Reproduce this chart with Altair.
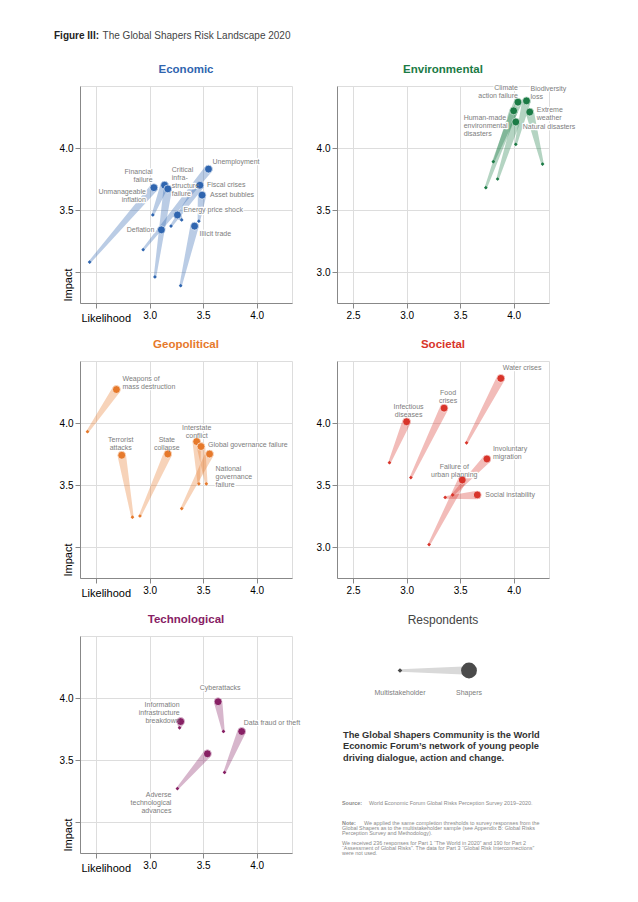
import altair as alt
import pandas as pd

FONT = "Liberation Sans"

# ---------------- data ----------------
eco_risks = ["Unmanageable inflation", "Financial failure", "Critical infrastructure failure",
             "Unemployment", "Fiscal crises", "Asset bubbles", "Energy price shock",
             "Deflation", "Illicit trade"]
eco_labels = ["Unmanageable\ninflation", "Financial\nfailure", "Critical\ninfra-\nstructure\nfailure",
              "Unemployment", "Fiscal crises", "Asset bubbles", "Energy price shock",
              "Deflation", "Illicit trade"]
eco_shapers_likelihood = [3.04, 3.14, 3.17, 3.55, 3.47, 3.49, 3.26, 3.11, 3.42]
eco_shapers_impact = [3.68, 3.70, 3.67, 3.83, 3.70, 3.62, 3.46, 3.34, 3.37]
eco_multi_likelihood = [2.44, 3.03, 3.05, 2.94, 3.20, 3.46, 3.30, 3.13, 3.29]
eco_multi_impact = [3.08, 3.46, 2.96, 3.18, 3.37, 3.41, 3.42, 3.35, 2.89]

env_risks = ["Climate action failure", "Biodiversity loss", "Human-made environmental disasters",
             "Extreme weather", "Natural disasters"]
env_labels = ["Climate\naction failure", "Biodiversity\nloss", "Human-made\nenvironmental\ndisasters",
              "Extreme\nweather", "Natural disasters"]
env_shapers_likelihood = [4.04, 4.12, 4.00, 4.15, 4.02]
env_shapers_impact = [4.37, 4.38, 4.30, 4.29, 4.21]
env_multi_likelihood = [3.81, 4.02, 3.74, 4.27, 3.85]
env_multi_impact = [3.89, 4.03, 3.68, 3.87, 3.75]

geo_risks = ["Weapons of mass destruction", "Terrorist attacks", "State collapse",
             "Interstate conflict", "Global governance failure", "National governance failure"]
geo_labels = ["Weapons of\nmass destruction", "Terrorist\nattacks", "State\ncollapse",
              "Interstate\nconflict", "Global governance failure", "National\ngovernance\nfailure"]
geo_shapers_likelihood = [2.69, 2.74, 3.17, 3.44, 3.48, 3.56]
geo_shapers_impact = [4.27, 3.74, 3.75, 3.85, 3.81, 3.75]
geo_multi_likelihood = [2.42, 2.84, 2.91, 3.46, 3.53, 3.30]
geo_multi_impact = [3.93, 3.24, 3.25, 3.51, 3.51, 3.31]

soc_risks = ["Water crises", "Food crises", "Infectious diseases", "Involuntary migration",
             "Failure of urban planning", "Social instability"]
soc_labels = ["Water crises", "Food\ncrises", "Infectious\ndiseases", "Involuntary\nmigration",
              "Failure of\nurban planning", "Social instability"]
soc_shapers_likelihood = [3.88, 3.35, 3.00, 3.75, 3.52, 3.66]
soc_shapers_impact = [4.36, 4.12, 4.01, 3.71, 3.54, 3.42]
soc_multi_likelihood = [3.56, 3.04, 2.84, 3.43, 3.21, 3.36]
soc_multi_impact = [3.84, 3.56, 3.68, 3.42, 3.02, 3.40]

tech_risks = ["Cyberattacks", "Information infrastructure breakdown", "Data fraud or theft",
              "Adverse technological advances"]
tech_labels = ["Cyberattacks", "Information\ninfrastructure\nbreakdown", "Data fraud or theft",
               "Adverse\ntechnological\nadvances"]
tech_shapers_likelihood = [3.64, 3.29, 3.86, 3.54]
tech_shapers_impact = [3.97, 3.81, 3.73, 3.55]
tech_multi_likelihood = [3.69, 3.28, 3.70, 3.26]
tech_multi_impact = [3.73, 3.76, 3.40, 3.27]

respondent_groups = ["Multistakeholder", "Shapers"]

fig_title_bold = "Figure III:"
fig_title_rest = "The Global Shapers Risk Landscape 2020"
description = ("The Global Shapers Community is the World\n"
               "Economic Forum\u2019s network of young people\n"
               "driving dialogue, action and change.")
source_bold = "Source:"
source_text = "World Economic Forum Global Risks Perception Survey 2019\u20132020."
note_bold = "Note:"
note_first = "We applied the same completion thresholds to survey responses from the"
note_rest = ("Global Shapers as to the multistakeholder sample (see Appendix B: Global Risks\n"
             "Perception Survey and Methodology).")
note2 = ("We received 236 responses for Part 1 \u201cThe World in 2020\u201d and 190 for Part 2\n"
         "\u201cAssessment of Global Risks\u201d. The data for Part 3 \u201cGlobal Risk Interconnections\u201d\n"
         "were not used.")

# ---------------- label placement (align, dx, dy) ----------------
placement = {
    "Unmanageable inflation": ("right", -8, 4),
    "Financial failure": ("right", -12, -13),
    "Critical infrastructure failure": ("left", 4, -19),
    "Unemployment": ("left", 4, -7),
    "Fiscal crises": ("left", 7, 0),
    "Asset bubbles": ("left", 8, 0),
    "Energy price shock": ("left", 6, -5),
    "Deflation": ("right", -7, 0),
    "Illicit trade": ("left", 5, 8),
    "Climate action failure": ("right", 0, -14),
    "Biodiversity loss": ("left", 4, -12),
    "Human-made environmental disasters": ("left", -50, 7),
    "Extreme weather": ("left", 7, -2),
    "Natural disasters": ("left", 7, 5),
    "Weapons of mass destruction": ("left", 6, -11),
    "Terrorist attacks": ("center", -1, -15),
    "State collapse": ("center", -1, -14),
    "Interstate conflict": ("center", 0, -14),
    "Global governance failure": ("left", 7, -2),
    "National governance failure": ("left", 6, 15),
    "Water crises": ("left", 2, -10),
    "Food crises": ("center", 4, -15),
    "Infectious diseases": ("center", 2, -15),
    "Involuntary migration": ("left", 6, -10),
    "Failure of urban planning": ("center", -8, -13),
    "Social instability": ("left", 8, 0),
    "Cyberattacks": ("center", 2, -14),
    "Information infrastructure breakdown": ("right", -1, -17),
    "Data fraud or theft": ("left", 2, -8),
    "Adverse technological advances": ("right", -36, 41),
}

X_DOMAIN = [2.35, 4.33]
Y_DOMAIN = [2.75, 4.5]
W, H = 212, 217
LABEL_COLOR = "#7d7d7d"
NOTE_COLOR = "#8a8a8a"


def make_df(risks, labels, s_l, s_i, m_l, m_i):
    rows = []
    for r, lab, a, b, c, d in zip(risks, labels, s_l, s_i, m_l, m_i):
        rows.append(dict(risk=r, label=lab, group="Multistakeholder", stage=0, likelihood=c, impact=d))
        rows.append(dict(risk=r, label=lab, group="Shapers", stage=1, likelihood=a, impact=b))
    return pd.DataFrame(rows)


def text_mark(txt, x, y, size, color, weight="normal", line_height=None, align="left",
              baseline="alphabetic"):
    kw = {}
    if line_height:
        kw["lineHeight"] = line_height
    return alt.Chart(pd.DataFrame({"t": [txt]})).mark_text(
        align=align, baseline=baseline, fontSize=size, fontWeight=weight, color=color,
        font=FONT, lineBreak="\n", **kw).encode(x=alt.value(x), y=alt.value(y), text="t:N")


def panel_title(name, color, weight="bold", size=11.5):
    return text_mark(name, W / 2, -16, size, color, weight, align="center", baseline="middle")


def panel(name, color, df, left, extra=None):
    if left:
        xaxis = alt.Axis(values=[2.5, 3.0, 3.5, 4.0], format=".1f",
                         labelExpr="datum.value == 2.5 ? '' : datum.label",
                         title="Likelihood", titleAnchor="start", titleAlign="left",
                         titleBaseline="alphabetic", titleX=1, titleY=18,
                         titleFontWeight="normal")
        yaxis = alt.Axis(values=[3.0, 3.5, 4.0], format=".1f",
                         labelExpr="datum.value == 3 ? '' : datum.label",
                         title="Impact", titleAngle=270, titleAlign="left",
                         titleBaseline="alphabetic", titleX=-9, titleY=215,
                         titleFontWeight="normal")
    else:
        xaxis = alt.Axis(values=[2.5, 3.0, 3.5, 4.0], format=".1f", title="")
        yaxis = alt.Axis(values=[3.0, 3.5, 4.0], format=".1f", title="")
    x = alt.X("likelihood:Q", scale=alt.Scale(domain=X_DOMAIN, nice=False, zero=False), axis=xaxis)
    y = alt.Y("impact:Q", scale=alt.Scale(domain=Y_DOMAIN, nice=False, zero=False), axis=yaxis)
    base = alt.Chart(df)
    trail = base.mark_trail(color=color, opacity=0.33).encode(
        x=x, y=y, detail="risk:N", order="stage:Q",
        size=alt.Size("stage:Q", scale=alt.Scale(domain=[0, 1], range=[2.5, 8.5]), legend=None))
    diamonds = base.transform_filter(alt.datum.group == "Multistakeholder").mark_point(
        shape="diamond", filled=True, size=14, color=color, opacity=1).encode(x=x, y=y)
    layers = [trail, diamonds]
    halos, texts = [], []
    for r in df["risk"].unique():
        align, dx, dy = placement[r]
        sel = base.transform_filter((alt.datum.group == "Shapers") & (alt.datum.risk == r))
        common = dict(align=align, baseline="middle", dx=dx, dy=dy, lineBreak="\n", lineHeight=8,
                      fontSize=7, font=FONT)
        halos.append(sel.mark_text(color="white", stroke="white", strokeWidth=2.4,
                                   strokeJoin="round", **common).encode(x=x, y=y, text="label:N"))
        texts.append(sel.mark_text(color=LABEL_COLOR, **common).encode(x=x, y=y, text="label:N"))
    circles = base.transform_filter(alt.datum.group == "Shapers").mark_circle(
        size=62, color=color, opacity=1, stroke="white", strokeWidth=0.6).encode(x=x, y=y)
    layers += halos + [circles] + texts
    layers.append(panel_title(name, color))
    if extra:
        layers.extend(extra)
    return alt.layer(*layers).properties(width=W, height=H)


fig_title = [
    text_mark(fig_title_bold, -26, -47, 10, "#222222", "bold"),
    text_mark(fig_title_rest, 22.6, -47, 10, "#444444"),
]

p_eco = panel("Economic", "#2F65AF",
              make_df(eco_risks, eco_labels, eco_shapers_likelihood, eco_shapers_impact,
                      eco_multi_likelihood, eco_multi_impact), True, fig_title)
p_env = panel("Environmental", "#1B7B45",
              make_df(env_risks, env_labels, env_shapers_likelihood, env_shapers_impact,
                      env_multi_likelihood, env_multi_impact), False)
p_geo = panel("Geopolitical", "#E6792B",
              make_df(geo_risks, geo_labels, geo_shapers_likelihood, geo_shapers_impact,
                      geo_multi_likelihood, geo_multi_impact), True)
p_soc = panel("Societal", "#D8342A",
              make_df(soc_risks, soc_labels, soc_shapers_likelihood, soc_shapers_impact,
                      soc_multi_likelihood, soc_multi_impact), False)
p_tech = panel("Technological", "#872064",
               make_df(tech_risks, tech_labels, tech_shapers_likelihood, tech_shapers_impact,
                       tech_multi_likelihood, tech_multi_impact), True)

# ---------------- respondents key + notes ----------------
leg_df = pd.DataFrame({"group": respondent_groups, "stage": [0, 1]})
lx = alt.X("stage:Q", scale=alt.Scale(domain=[0, 1], range=[63, 132]), axis=None)
leg_base = alt.Chart(leg_df)
leg_trail = leg_base.mark_trail(color="#d9d9d9").encode(
    x=lx, y=alt.value(34.5), order="stage:Q",
    size=alt.Size("stage:Q", scale=alt.Scale(domain=[0, 1], range=[3, 16]), legend=None))
leg_diamond = leg_base.transform_filter(alt.datum.stage == 0).mark_point(
    shape="diamond", filled=True, size=22, color="#4a4a4a", opacity=1).encode(x=lx, y=alt.value(34.5))
leg_circle = leg_base.transform_filter(alt.datum.stage == 1).mark_circle(
    size=250, color="#4a4a4a", opacity=1).encode(x=lx, y=alt.value(34.5))
leg_text = leg_base.mark_text(fontSize=7, color=LABEL_COLOR, font=FONT, baseline="middle").encode(
    x=lx, y=alt.value(57.3), text="group:N")

NS = 5.4
notes_layers = [
    leg_trail, leg_diamond, leg_circle, leg_text,
    panel_title("Respondents", "#444444", "normal", 12),
    text_mark(description, 6, 101.7, 9.3, "#333333", "bold", 11.7),
    text_mark(source_bold, 5, 169.3, NS, NOTE_COLOR, "bold"),
    text_mark(source_text, 32, 169.3, NS, NOTE_COLOR),
    text_mark(note_bold, 5, 188.6, NS, NOTE_COLOR, "bold"),
    text_mark(note_first, 27, 188.6, NS, NOTE_COLOR),
    text_mark(note_rest, 5, 194, NS, NOTE_COLOR, "normal", 5.3),
    text_mark(note2, 5, 208.6, NS, NOTE_COLOR, "normal", 5.3),
]
p_resp = alt.layer(*notes_layers).properties(
    width=W, height=H, view=alt.ViewBackground(strokeOpacity=0))

chart = alt.concat(p_eco, p_env, p_geo, p_soc, p_tech, p_resp, columns=2,
                   spacing={"row": 58, "column": 45}, bounds="flush").properties(
    padding={"left": 45, "top": 22, "right": 5, "bottom": 5}
).configure_view(stroke="#d4d4d4", strokeWidth=0.8).configure_axis(
    domain=False, ticks=False, gridColor="#ececec", gridWidth=0.8,
    labelColor="#8c8c8c", labelFontSize=7.5, labelFont=FONT,
    titleFont=FONT, titleFontSize=10.5, titleColor="#444444", titleFontWeight="normal"
).configure_axisX(labelPadding=4).configure_axisY(labelPadding=5).configure(font=FONT)

chart.save("out.html", embed_options={"renderer": "svg", "actions": False})
